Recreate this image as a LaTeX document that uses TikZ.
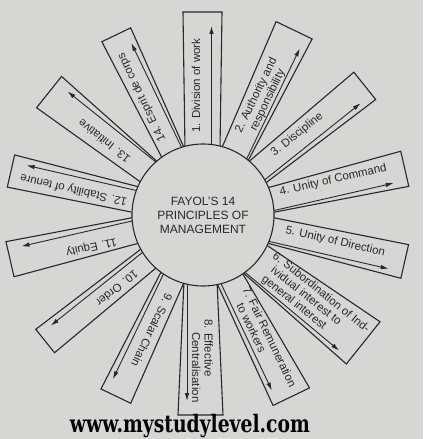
\documentclass[tikz,border=0pt]{standalone}
\usepackage{fontspec}
\setmainfont{Liberation Sans}
\newfontfamily\markfont{DejaVu Serif}
\usetikzlibrary{arrows.meta}

\definecolor{paper}{RGB}{214,214,212}
\definecolor{ink}{RGB}{40,40,40}

\begin{document}
\begin{tikzpicture}[x=1pt, y=1pt]
\tikzset{ >={Latex[length=8pt,width=4.5pt]},
  ray/.style={draw=ink, line width=1.1pt},
  arw/.style={->, draw=ink, line width=0.9pt},
  txt/.style={anchor=west, inner sep=0pt, text=ink, align=left,
              font=\fontsize{11.5}{12.5}\selectfont},
  hub/.style={circle, draw=ink, line width=1.1pt, fill=paper, minimum size=142pt,
              inner sep=0pt, align=center, text=ink, font=\fontsize{12}{14}\selectfont},
  sitemark/.style={anchor=base, inner sep=0pt, text=black}
}
%\draw [lightgray, dashed] (-203,-224) grid (220,215);

\useasboundingbox (-203,-224) rectangle (220,215);
\fill [paper] (-203,-224) rectangle (220,215);

% 1
\begin{scope}[rotate=90, transform shape]
\draw [ray] (66,-17) -- (203,-19) -- (203,20) -- (66,18) -- cycle;
\coordinate (S1) at (66,-8.5);
\coordinate (E1) at (189,-8.5);
\draw [arw] (S1) -- (E1);
\node [txt] (P1) at (82,7) {1. Division of work};
\end{scope}

% 2
\begin{scope}[rotate=64.3, transform shape]
\draw [ray] (66,-17) -- (206,-22) -- (206,18) -- (66,12) -- cycle;
\coordinate (S2) at (66,-15);
\coordinate (E2) at (192,-15);
\draw [arw] (S2) -- (E2);
\node [txt] (P2) at (90,-2.5) {2. Authority and\\\hspace*{8pt}responsibility};
\end{scope}

% 3
\begin{scope}[rotate=38.6, transform shape]
\draw [ray] (66,-14) -- (207,-17.5) -- (207,17.5) -- (66,13) -- cycle;
\coordinate (S3) at (66,-11);
\coordinate (E3) at (193,-11);
\draw [arw] (S3) -- (E3);
\node [txt] (P3) at (92,4) {3. Discipline};
\end{scope}

% 4
\begin{scope}[rotate=12.9, transform shape]
\draw [ray] (66,-13) -- (207,-18) -- (207,18) -- (66,12) -- cycle;
\coordinate (S4) at (66,-11.5);
\coordinate (E4) at (193,-11.5);
\draw [arw] (S4) -- (E4);
\node [txt] (P4) at (80,5) {4. Unity of Command};
\end{scope}

% 5
\begin{scope}[rotate=-12.9, transform shape]
\draw [ray] (66,-13) -- (207,-17.5) -- (207,17) -- (66,13) -- cycle;
\coordinate (S5) at (66,-11);
\coordinate (E5) at (193,-11);
\draw [arw] (S5) -- (E5);
\node [txt] (P5) at (84,3.5) {5. Unity of Direction};
\end{scope}

% 6
\begin{scope}[rotate=-38.6, transform shape]
\draw [ray] (66,-20) -- (205,-27) -- (205,27) -- (66,16) -- cycle;
\coordinate (S6) at (66,-18.5);
\coordinate (E6) at (191,-21);
\draw [arw] (S6) -- (E6);
\node [txt] (P6) at (80,0.5) {6. Subordination of Ind-\\\hspace*{8pt}ividual interest to\\\hspace*{6pt}general interest};
\end{scope}

% 7
\begin{scope}[rotate=-64.3, transform shape]
\draw [ray] (66,-17) -- (202,-19.5) -- (202,21) -- (66,10) -- cycle;
\coordinate (S7) at (66,-13.5);
\coordinate (E7) at (188,-14);
\draw [arw] (S7) -- (E7);
\node [txt] (P7) at (84,1) {7. Fair Remuneration\\\hspace*{12pt}to workers};
\end{scope}

% 8
\begin{scope}[rotate=-90, transform shape]
\draw [ray] (66,-19) -- (200,-25) -- (200,20) -- (66,14) -- cycle;
\coordinate (S8) at (66,-16);
\coordinate (E8) at (186,-16);
\draw [arw] (S8) -- (E8);
\node [txt] (P8) at (104,-0.5) {8. Effective\\\hspace*{13pt}Centralisation};
\end{scope}

% 9
\begin{scope}[rotate=-115.7, transform shape]
\draw [ray] (66,-13) -- (201,-16.5) -- (201,16.5) -- (66,12) -- cycle;
\coordinate (S9) at (66,-10);
\coordinate (E9) at (187,-10);
\draw [arw] (S9) -- (E9);
\node [txt] (P9) at (86,4) {9. Scalar Chain};
\end{scope}

% 10
\begin{scope}[rotate=-141.4, transform shape]
\draw [ray] (66,-12) -- (202,-15) -- (202,15) -- (66,12) -- cycle;
\coordinate (S10) at (66,-8.5);
\coordinate (E10) at (188,-8.5);
\draw [arw] (S10) -- (E10);
\node [txt] (P10) at (88,4) {10. Order};
\end{scope}

% 11
\begin{scope}[rotate=-167.1, transform shape]
\draw [ray] (66,-13) -- (198,-18) -- (198,18) -- (66,13) -- cycle;
\coordinate (S11) at (66,-10);
\coordinate (E11) at (184,-10);
\draw [arw] (S11) -- (E11);
\node [txt] (P11) at (90,6) {11. Equity};
\end{scope}

% 12
\begin{scope}[rotate=167.1, transform shape]
\draw [ray] (66,-13) -- (197,-16.5) -- (197,16.5) -- (66,13) -- cycle;
\coordinate (S12) at (66,-9);
\coordinate (E12) at (183,-9);
\draw [arw] (S12) -- (E12);
\node [txt] (P12) at (77,4) {12. Stability of tenure};
\end{scope}

% 13
\begin{scope}[rotate=141.4, transform shape]
\draw [ray] (66,-13) -- (197,-20) -- (197,20) -- (66,13) -- cycle;
\coordinate (S13) at (66,-12);
\coordinate (E13) at (183,-12);
\draw [arw] (S13) -- (E13);
\node [txt] (P13) at (92,4) {13. Initiative};
\end{scope}

% 14
\begin{scope}[rotate=115.7, transform shape]
\draw [ray] (66,-12) -- (200,-16) -- (200,16) -- (66,12) -- cycle;
\coordinate (S14) at (66,-10);
\coordinate (E14) at (186,-10);
\draw [arw] (S14) -- (E14);
\node [txt] (P14) at (84,4) {14. Esprit de corps};
\end{scope}

\node [hub] (C) at (0,0) {FAYOL'S 14\\PRINCIPLES OF\\MANAGEMENT};

\node [sitemark] (W) at (-13,-217.5)
  {\resizebox{240pt}{\height}{\markfont\bfseries\fontsize{24}{24}\selectfont www.mystudylevel.com}};

\end{tikzpicture}
\end{document}
